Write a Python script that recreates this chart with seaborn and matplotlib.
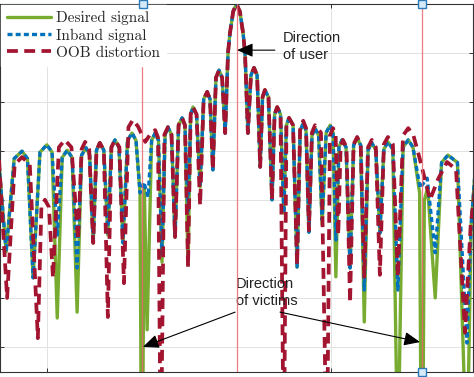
import matplotlib
matplotlib.use("Agg")
import matplotlib.pyplot as plt
import seaborn as sns

# beam pattern values (angle in deg, gain in dB)
desired_deg = [-40.2, -38.7, -37.0, -35.35, -34.2, -33.0, -31.55, -30.1, -29.0, -27.9, -26.85, -25.8, -24.75, -23.7,
               -22.75, -21.8, -21.05, -20.3, -19.6, -18.9, -18.05, -17.2, -16.45, -15.7, -14.85, -14.0, -13.05, -12.1,
               -11.25, -10.4, -10.1, -9.9, -9.5, -8.9, -7.95, -7.2, -6.5, -5.75, -5.1, -4.5, -3.75, -3.0, -2.25, -1.5,
               -0.9, -0.25, 0.3, 0.8, 1.55, 2.3, 3.05, 3.8, 4.4, 5.0, 5.65, 6.3, 6.95, 7.6, 8.2, 8.6, 9.3, 10.0, 10.7,
               11.4, 11.8, 12.4, 13.05, 13.7, 14.35, 15.0, 15.5, 16.0, 16.75, 17.5, 18.05, 18.6, 19.3, 20.0, 20.55,
               21.1, 21.95, 22.8, 23.45, 24.1, 24.7, 25.3, 25.95, 26.6, 27.35, 28.1, 28.95, 29.8, 30.4, 31.0, 31.65,
               32.3, 33.15, 34.0, 34.75, 35.5, 36.25, 37.0, 37.8, 38.6, 39.45, 40.3, 41.15, 42.0, 43.05, 44.1, 45.2,
               46.3, 47.3, 48.7, 49.05, 49.35, 49.7, 50.4, 52.0, 53.35, 54.7, 56.7, 58.7, 59.6, 60.6]
desired_db = [-32.8, -50.5, -31.5, -30.0, -31.5, -55.8, -30.2, -28.7, -30.2, -64.0, -31.3, -29.8, -31.3, -62.8,
              -30.8, -29.3, -30.8, -48.7, -29.8, -28.3, -29.8, -47.1, -29.2, -27.7, -29.2, -48.7, -27.8, -26.3,
              -27.8, -38.5, -95.0, -95.0, -37.0, -66.4, -27.8, -26.3, -27.8, -52.6, -26.6, -25.1, -26.6, -47.5,
              -24.7, -23.2, -24.7, -53.2, -22.5, -21.0, -22.5, -37.3, -19.4, -17.9, -19.4, -33.8, -15.0, -13.5,
              -15.0, -26.3, -10.0, -6.0, -1.5, 0.0, -1.5, -6.0, -10.0, -26.3, -14.5, -13.0, -14.5, -33.2, -19.0,
              -17.5, -19.0, -39.9, -22.5, -21.0, -22.5, -42.6, -24.7, -23.2, -24.7, -53.6, -25.8, -24.3, -25.8,
              -46.5, -26.8, -25.3, -26.8, -45.0, -26.2, -24.7, -26.2, -55.6, -29.2, -27.7, -29.2, -53.8, -28.8,
              -27.3, -28.8, -64.8, -29.8, -28.3, -29.8, -46.7, -29.6, -28.1, -29.6, -95.0, -29.2, -27.7, -29.2,
              -38.5, -95.0, -95.0, -40.0, -37.5, -59.9, -32.3, -30.8, -32.3, -95.0, -45.0, -32.0]

inband_deg = [-40.2, -38.7, -37.0, -35.35, -34.2, -33.0, -31.55, -30.1, -29.0, -27.9, -26.85, -25.8, -24.75, -23.7,
              -22.75, -21.8, -21.05, -20.3, -19.6, -18.9, -18.05, -17.2, -16.45, -15.7, -14.85, -14.0, -13.05, -12.1,
              -11.25, -10.4, -9.6, -8.7, -7.95, -7.2, -6.5, -5.75, -5.1, -4.5, -3.75, -3.0, -2.25, -1.5, -0.9, -0.25,
              0.3, 0.8, 1.55, 2.3, 3.05, 3.8, 4.4, 5.0, 5.65, 6.3, 6.95, 7.6, 8.2, 8.6, 9.3, 10.0, 10.7, 11.4, 11.8,
              12.4, 13.05, 13.7, 14.35, 15.0, 15.5, 16.0, 16.75, 17.5, 18.05, 18.6, 19.3, 20.0, 20.55, 21.1, 21.95,
              22.8, 23.45, 24.1, 24.7, 25.3, 25.95, 26.6, 27.35, 28.1, 28.95, 29.8, 30.4, 31.0, 31.65, 32.3, 33.15,
              34.0, 34.75, 35.5, 36.25, 37.0, 37.8, 38.6, 39.45, 40.3, 41.15, 42.0, 43.05, 44.1, 45.2, 46.3, 47.3,
              48.8, 50.3, 52.0, 53.35, 54.7, 56.7, 58.7, 59.6, 60.6]
inband_db = [-32.8, -50.5, -31.5, -30.0, -31.5, -55.8, -30.2, -28.7, -30.2, -47.1, -31.3, -29.8, -31.3, -53.8,
             -30.8, -29.3, -30.8, -48.7, -29.8, -28.3, -29.8, -47.1, -29.2, -27.7, -29.2, -48.7, -27.8, -26.3,
             -27.8, -38.5, -36.3, -39.3, -27.8, -26.3, -27.8, -51.0, -26.6, -25.1, -26.6, -47.5, -24.7, -23.2,
             -24.7, -42.4, -22.5, -21.0, -22.5, -37.3, -19.4, -17.9, -19.4, -33.8, -15.0, -13.5, -15.0, -26.3,
             -10.0, -6.0, -1.5, 0.0, -1.5, -6.0, -10.0, -26.3, -14.5, -13.0, -14.5, -33.2, -19.0, -17.5, -19.0,
             -39.9, -22.5, -21.0, -22.5, -42.6, -24.7, -23.2, -24.7, -53.6, -25.8, -24.3, -25.8, -46.5, -26.8,
             -25.3, -26.8, -44.0, -26.2, -24.7, -26.2, -48.1, -29.2, -27.7, -29.2, -53.8, -28.8, -27.3, -28.8,
             -58.3, -29.8, -28.3, -29.8, -46.7, -29.6, -28.1, -29.6, -58.3, -29.2, -27.7, -29.2, -37.5, -35.5,
             -50.7, -32.3, -30.8, -32.3, -69.1, -45.0, -32.0]

oob_deg = [-40.2, -38.5, -36.9, -35.35, -33.7, -32.0, -31.25, -30.5, -29.65, -28.8, -27.55, -26.3, -24.9, -23.5,
           -22.75, -22.0, -21.15, -20.3, -19.6, -18.9, -18.05, -17.2, -16.45, -15.7, -14.75, -13.8, -12.85, -11.9,
           -10.8, -9.3, -8.2, -7.2, -6.6, -6.0, -5.25, -4.5, -3.75, -3.0, -2.25, -1.5, -0.9, -0.25, 0.3, 0.8, 1.55,
           2.3, 3.05, 3.8, 4.4, 5.0, 5.65, 6.3, 6.95, 7.6, 8.2, 8.6, 9.3, 10.0, 10.7, 11.4, 11.8, 12.4, 13.05, 13.7,
           14.35, 15.0, 15.5, 16.0, 16.75, 17.5, 18.05, 18.6, 19.3, 20.0, 20.55, 21.1, 21.95, 22.8, 23.45, 24.1,
           24.7, 25.3, 25.95, 26.6, 27.85, 29.1, 29.75, 30.4, 30.95, 31.5, 32.0, 32.5, 33.25, 34.0, 34.75, 35.5,
           36.25, 37.0, 37.8, 38.6, 39.45, 40.3, 41.15, 42.0, 43.05, 44.1, 45.2, 46.3, 47.4, 48.8, 50.9, 52.6,
           54.5, 56.4, 58.3, 59.5, 60.6]
oob_db = [-31.8, -59.9, -32.7, -31.2, -32.7, -68.1, -41.4, -39.9, -41.4, -55.8, -29.2, -27.7, -29.2, -48.1,
          -29.6, -28.1, -29.6, -48.7, -29.8, -28.3, -29.8, -63.8, -29.2, -27.7, -29.2, -56.9, -25.1, -23.6,
          -25.0, -28.1, -26.5, -25.7, -27.2, -95.0, -26.6, -25.1, -26.6, -47.5, -24.7, -23.2, -24.7, -53.6,
          -22.5, -21.0, -22.5, -41.0, -19.4, -17.9, -19.4, -33.8, -15.0, -13.5, -15.0, -26.3, -10.0, -6.0, -1.5,
          0.0, -1.5, -6.0, -10.0, -26.3, -14.5, -13.0, -14.5, -33.2, -19.0, -17.5, -19.0, -39.9, -22.5, -21.0,
          -22.5, -95.0, -24.7, -23.2, -24.7, -53.2, -25.3, -23.8, -25.3, -46.1, -26.2, -24.7, -26.2, -95.0,
          -26.8, -25.3, -26.8, -47.1, -29.2, -27.7, -29.2, -60.9, -28.6, -27.1, -28.6, -55.6, -29.2, -27.7,
          -29.2, -55.2, -28.6, -27.1, -28.6, -55.6, -26.8, -25.3, -26.8, -31.8, -39.9, -35.7, -32.2, -33.7,
          -67.0, -45.0, -35.9]

user_deg = 10.0
victim_deg = [-10.0, 49.2]
series_labels = ["Desired signal", "Inband signal", "OOB distortion"]

sns.set_style("white")
plt.rcParams["font.family"] = ["Liberation Sans", "DejaVu Sans"]

fig = plt.figure(figsize=(4.74, 3.77), dpi=100)
ax = fig.add_axes([0.0, 0.0133, 0.998, 0.976])

# direction markers
for xv in [victim_deg[0], user_deg, victim_deg[1]]:
    ax.axvline(xv, color="#e8676f", lw=0.9, alpha=0.85, zorder=4)

sns.lineplot(x=desired_deg, y=desired_db, color="#77AC30", lw=2.4, label=series_labels[0],
             sort=False, estimator=None, ax=ax, zorder=2)
sns.lineplot(x=inband_deg, y=inband_db, color="#0072BD", lw=2.4, linestyle=(0, (1.5, 0.95)),
             label=series_labels[1], sort=False, estimator=None, ax=ax, zorder=2.5)
sns.lineplot(x=oob_deg, y=oob_db, color="#A2142F", lw=2.7, linestyle=(0, (2.9, 1.7)),
             label=series_labels[2], sort=False, estimator=None, ax=ax, zorder=3)

ax.set_xlim(-40, 60)
ax.set_ylim(-75, 0)
ax.set_xticks([-30, 30])
ax.set_yticks([-70, -60, -50, -40, -30, -20, -10, 0])
ax.grid(True, color="#e2e2e2", lw=0.7)
ax.tick_params(direction="in", length=3, width=0.7, color="#333333", top=True, right=True, bottom=True,
               left=True, labelleft=False, labelbottom=False)
ax.set_xlabel("")
ax.set_ylabel("")
for s in ax.spines.values():
    s.set_color("#333333")
    s.set_linewidth(0.8)

leg = ax.legend(loc="upper left", bbox_to_anchor=(0.0, 1.0), borderaxespad=0.05, frameon=True,
                fancybox=False, facecolor="white", edgecolor="white", framealpha=1.0,
                prop={"family": "cmr10", "size": 11}, handlelength=2.9, handletextpad=0.3,
                labelspacing=0.22, borderpad=0.4)
leg.set_zorder(6)

# data tip squares
ax.plot([-9.8, victim_deg[1]], [0, 0], ls="none", marker="s", ms=5.5, mfc="#d6eaf8", mec="#2b7bba",
        mew=1.0, clip_on=False, zorder=8)
ax.plot([victim_deg[1]], [-75], ls="none", marker="s", ms=5.5, mfc="#d6eaf8", mec="#2b7bba",
        mew=1.0, clip_on=False, zorder=8)

arrow_kw = dict(arrowstyle="-|>,head_length=0.7,head_width=0.3", color="black", lw=0.8,
                mutation_scale=14, shrinkA=0, shrinkB=0)

ax.text(19.8, -8.7, "Direction\nof user", ha="left", va="center", fontsize=10.5, linespacing=1.3,
        color="#222222")
ax.annotate("", xy=(10.1, -9.4), xytext=(18.1, -9.4), arrowprops=arrow_kw)

ax.text(9.9, -58.8, "Direction\nof victims", ha="left", va="center", fontsize=10.5, linespacing=1.3,
        color="#222222")
ax.annotate("", xy=(-9.8, -69.9), xytext=(9.7, -62.8), arrowprops=arrow_kw)
ax.annotate("", xy=(48.8, -68.9), xytext=(19.2, -62.8), arrowprops=arrow_kw)

fig.savefig("out.png", dpi=100)
